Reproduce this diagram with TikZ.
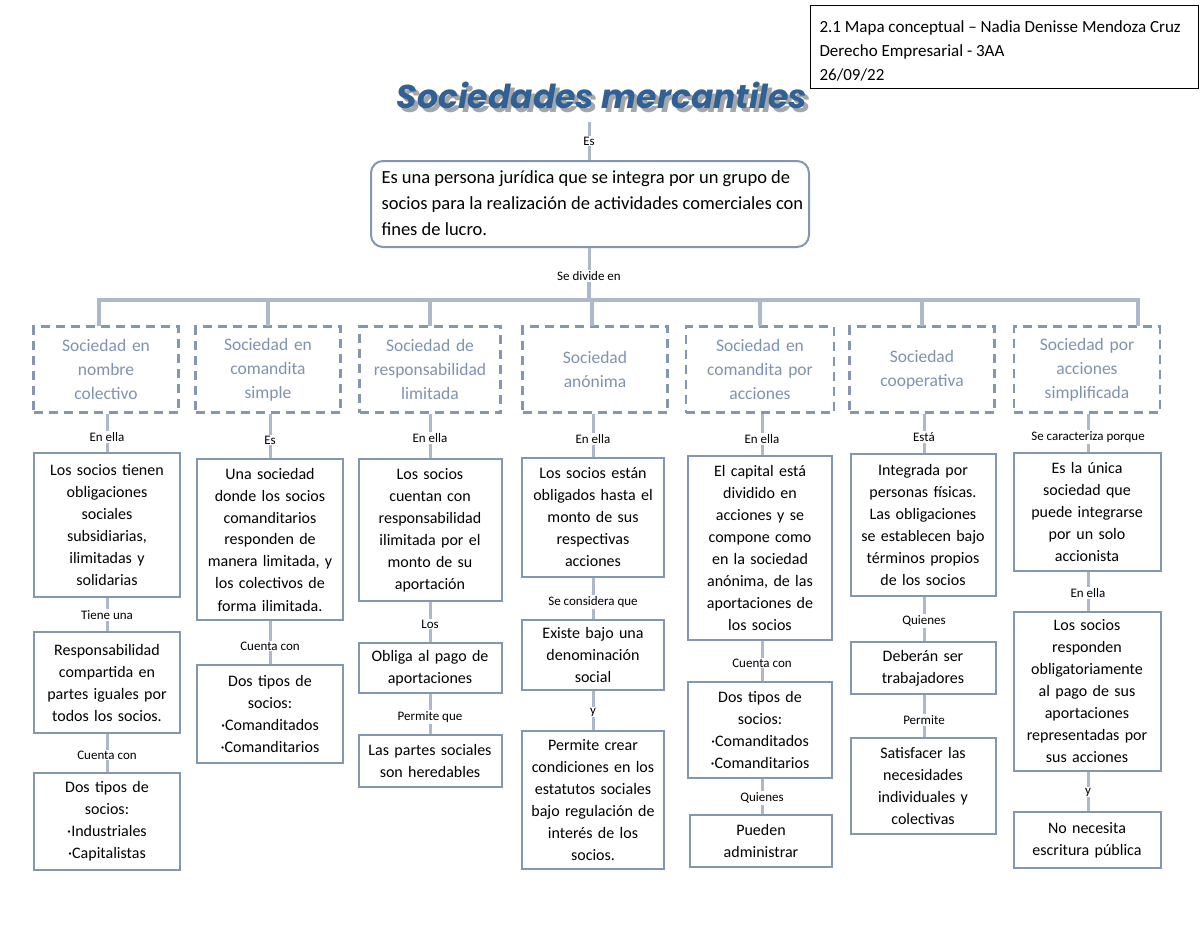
\documentclass[tikz,border=0pt]{standalone}
\usepackage{fontspec}
\setmainfont{Carlito}
\newfontfamily\titlefont{Poppins}
\definecolor{bxc}{HTML}{8497B0}
\definecolor{lnc}{HTML}{ADB9CA}
\definecolor{hdc}{HTML}{7F93B0}
\definecolor{ttc}{HTML}{2F6096}
\begin{document}
\begin{tikzpicture}[x=1pt,y=-1pt,
  bx/.style={draw=bxc,line width=2pt,align=center,inner sep=2pt,font=\fontsize{16}{22}\selectfont},
  hd/.style={draw=bxc,line width=2.6pt,dash pattern=on 9pt off 6pt,align=center,font=\fontsize{17.5}{24}\selectfont,text=hdc},
  lb/.style={font=\fontsize{13}{14}\selectfont,inner sep=1pt},
  ln/.style={draw=lnc,line width=4pt}]
\useasboundingbox (0,0) rectangle (1200,927);
\fill[white] (0,0) rectangle (1200,927);
% info box
\node[draw=black,line width=0.8pt,minimum width=388pt,minimum height=83pt,anchor=north west] (info) at (810,5) {};
\node[anchor=west,font=\fontsize{17}{24}\selectfont,align=left] (infot) at (816,51) {2.1 Mapa conceptual -- Nadia Denisse Mendoza Cruz\\Derecho Empresarial - 3AA\\26/09/22};
% title
\node[font=\titlefont\bfseries\itshape\fontsize{33}{36}\selectfont,text=gray!70] at (606,99) {Sociedades mercantiles};
\node[font=\titlefont\bfseries\itshape\fontsize{33}{36}\selectfont,text=ttc] (title) at (602,95) {Sociedades mercantiles};
\coordinate (tb) at (589,122);
\node[lb] (es0) at (589,141) {Es};
\node[draw=bxc,line width=2pt,rounded corners=12pt,minimum width=438pt,minimum height=86pt,anchor=north west] (main) at (370,160) {};
\node[anchor=west,align=left,font=\fontsize{18.5}{26}\selectfont] (maint) at (378,203) {Es una persona jurídica que se integra por un grupo de\\socios para la realización de actividades comerciales con\\fines de lucro.};
\node[lb] (div) at (589,276) {Se divide en};
\draw[ln,line width=3pt] (tb) -- (es0.north);
\draw[ln,line width=3pt] (es0.south) -- (main.north -| es0);
\draw[ln,line width=3pt] (main.south -| div) -- (div.north);
% headers
\newcommand\hdr[5]{\node[hd,minimum width=#3pt,minimum height=86pt,text width=#3pt-8pt] (#1) at (#2,369.5) {#4};}
\hdr{h1}{106}{145}{Sociedad en\\nombre\\colectivo}{}
\hdr{h2}{268}{145}{Sociedad en\\comandita\\simple}{}
\hdr{h3}{430}{141}{Sociedad de\\responsabilidad\\limitada}{}
\hdr{h4}{595}{145}{Sociedad\\anónima}{}
\hdr{h5}{760}{148}{Sociedad en\\comandita por\\acciones}{}
\hdr{h6}{922}{145}{Sociedad\\cooperativa}{}
\hdr{h7}{1087}{146}{Sociedad por\\acciones\\simplificada}{}
\coordinate (bl) at (99,300);
\coordinate (br) at (1138,300);
\draw[ln] (div.south) -- (589,300);
\draw[ln] (99,326) -- (bl) -- (br) -- (1138,326);
\foreach \x in {268,430,592,760,922}{\draw[ln] (\x,300) -- (\x,326);}
% boxes
\newcommand\bxn[6]{\node[bx,minimum width=#5pt,text width=#5pt-8pt,minimum height=#4pt-#3pt] (#1) at (#2,{(#3+#4)/2}) {#6};}
\newcommand\lbl[4]{\node[lb] (#1) at (#2,#3) {#4};}
\newcommand\con[3]{\draw[ln,line width=3pt] (#1.south -| #2) -- (#2.north); \draw[ln,line width=3pt] (#2.south) -- (#3.north -| #2);}
% col1
\lbl{l11}{107}{437}{En ella}
\bxn{b11}{107}{453}{597}{146}{Los socios tienen\\obligaciones\\sociales\\subsidiarias,\\ilimitadas y\\solidarias}
\lbl{l12}{107}{615}{Tiene una}
\bxn{b12}{107}{632}{733}{146}{Responsabilidad\\compartida en\\partes iguales por\\todos los socios.}
\lbl{l13}{107}{755}{Cuenta con}
\bxn{b13}{107}{773}{870}{146}{Dos tipos de\\socios:\\·Industriales\\·Capitalistas}
\con{h1}{l11}{b11}\con{b11}{l12}{b12}\con{b12}{l13}{b13}
% col2
\lbl{l21}{270}{440}{Es}
\bxn{b21}{270}{459}{620}{146}{Una sociedad\\donde los socios\\comanditarios\\responden de\\manera limitada, y\\los colectivos de\\forma ilimitada.}
\lbl{l22}{270}{646}{Cuenta con}
\bxn{b22}{270}{665}{763}{146}{Dos tipos de\\socios:\\·Comanditados\\·Comanditarios}
\con{h2}{l21}{b21}\con{b21}{l22}{b22}
% col3
\lbl{l31}{430}{438}{En ella}
\bxn{b31}{430}{459}{601}{143}{Los socios\\cuentan con\\responsabilidad\\ilimitada por el\\monto de su\\aportación}
\lbl{l32}{430}{624}{Los}
\bxn{b32}{430}{643}{693}{143}{Obliga al pago de\\aportaciones}
\lbl{l33}{430}{717}{Permite que}
\bxn{b33}{430}{735}{787}{143}{Las partes sociales\\son heredables}
\con{h3}{l31}{b31}\con{b31}{l32}{b32}\con{b32}{l33}{b33}
% col4
\lbl{l41}{593}{439}{En ella}
\bxn{b41}{593}{458}{577}{142}{Los socios están\\obligados hasta el\\monto de sus\\respectivas\\acciones}
\lbl{l42}{593}{602}{Se considera que}
\bxn{b42}{593}{620}{690}{142}{Existe bajo una\\denominación\\social}
\lbl{l43}{593}{712}{y}
\bxn{b43}{593}{731}{869}{142}{Permite crear\\condiciones en los\\estatutos sociales\\bajo regulación de\\interés de los\\socios.}
\con{h4}{l41}{b41}\con{b41}{l42}{b42}\con{b42}{l43}{b43}
% col5
\lbl{l51}{762}{439}{En ella}
\bxn{b51}{760}{456}{640}{144}{El capital está\\dividido en\\acciones y se\\compone como\\en la sociedad\\anónima, de las\\aportaciones de\\los socios}
\lbl{l52}{762}{663}{Cuenta con}
\bxn{b52}{760}{682}{778}{144}{Dos tipos de\\socios:\\·Comanditados\\·Comanditarios}
\lbl{l53}{762}{798}{Quienes}
\bxn{b53}{761}{815}{867}{142}{Pueden\\administrar}
\con{h5}{l51}{b51}\con{b51}{l52}{b52}\con{b52}{l53}{b53}
% col6
\lbl{l61}{924}{437}{Está}
\bxn{b61}{923}{454}{596}{145}{Integrada por\\personas físicas.\\Las obligaciones\\se establecen bajo\\términos propios\\de los socios}
\lbl{l62}{924}{621}{Quienes}
\bxn{b62}{923}{642}{694}{145}{Deberán ser\\trabajadores}
\lbl{l63}{924}{720}{Permite}
\bxn{b63}{923}{738}{834}{145}{Satisfacer las\\necesidades\\individuales y\\colectivas}
\con{h6}{l61}{b61}\con{b61}{l62}{b62}\con{b62}{l63}{b63}
% col7
\lbl{l71}{1088}{437}{Se caracteriza porque}
\bxn{b71}{1087}{453}{571}{147}{Es la única\\sociedad que\\puede integrarse\\por un solo\\accionista}
\lbl{l72}{1088}{593}{En ella}
\bxn{b72}{1087}{612}{771}{147}{Los socios\\responden\\obligatoriamente\\al pago de sus\\aportaciones\\representadas por\\sus acciones}
\lbl{l73}{1088}{792}{y}
\bxn{b73}{1087}{812}{868}{147}{No necesita\\escritura pública}
\con{h7}{l71}{b71}\con{b71}{l72}{b72}\con{b72}{l73}{b73}
\end{tikzpicture}
\end{document}
